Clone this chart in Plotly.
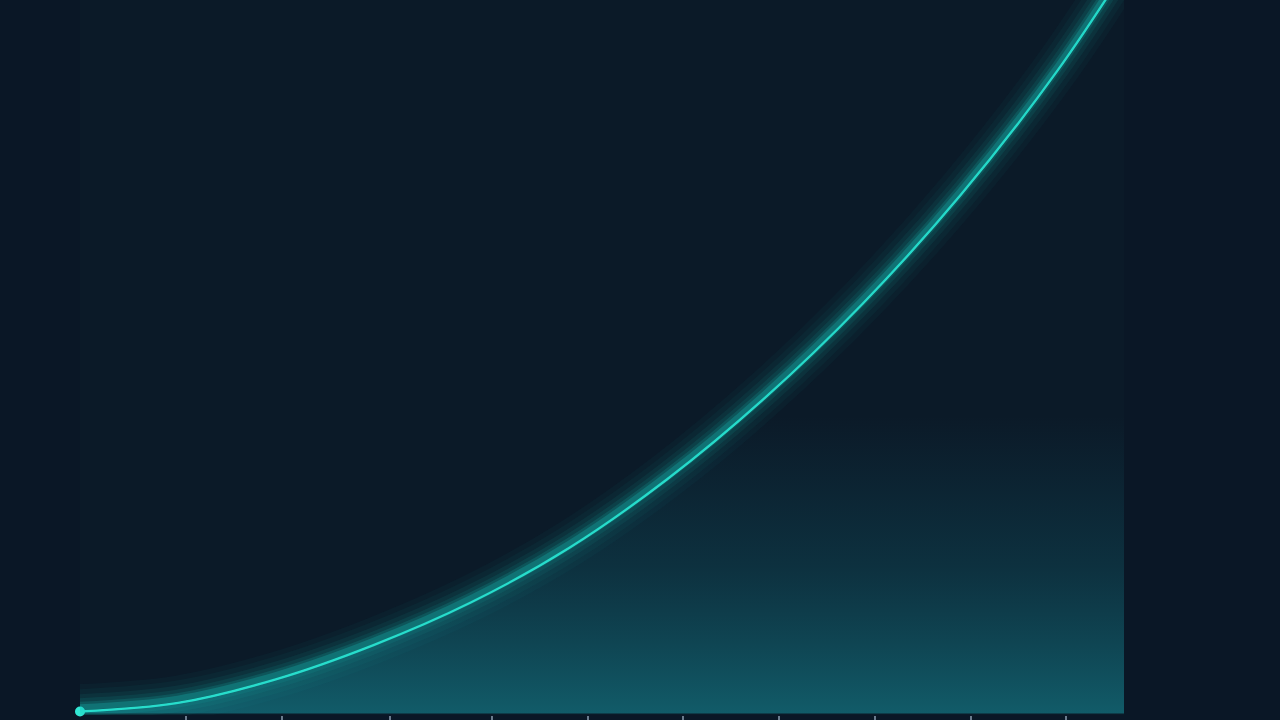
import plotly.graph_objects as go

# ---- data ----
x_steps = [0, 1, 2, 3, 4, 5, 6, 7, 8, 9, 10, 11]
y_values = [0.3, 1.5, 4.8, 9.6, 15.6, 23.2, 32.8, 44.2, 57.4, 72.6, 90.2, 111.0]
tick_positions = [1.08, 2.07, 3.17, 4.21, 5.19, 6.17, 7.15, 8.13, 9.11, 10.08]
tick_labels = ["" for _ in tick_positions]

BG_PAPER = "#0a1726"
BG_PLOT = "#0b1a28"
CORE = "#32e8d4"
GLOW = "rgba(25,205,195,{a})"
SHAPE = dict(shape="spline", smoothing=1.0)

fig = go.Figure()

# area fill with vertical gradient
fig.add_trace(go.Scatter(
    x=x_steps, y=y_values, mode="lines", line=dict(width=0, **SHAPE),
    fill="tozeroy",
    fillgradient=dict(type="vertical", start=0, stop=42,
                      colorscale=[[0, "rgba(24,160,172,0.50)"], [0.5, "rgba(20,130,145,0.22)"],
                                  [1, "rgba(20,120,140,0.0)"]]),
    hoverinfo="skip", showlegend=False,
))

# glow layers (slightly offset via a shifted overlay axis)
for w, a in [(46, 0.035), (36, 0.045), (26, 0.065), (18, 0.095), (11, 0.15), (6, 0.25)]:
    fig.add_trace(go.Scatter(
        x=x_steps, y=y_values, mode="lines", yaxis="y2",
        line=dict(width=w, color=GLOW.format(a=a), **SHAPE),
        hoverinfo="skip", showlegend=False,
    ))

# core line
fig.add_trace(go.Scatter(
    x=x_steps, y=y_values, mode="lines",
    line=dict(width=2.3, color=CORE, **SHAPE),
    hoverinfo="skip", showlegend=False,
))

# start dot
fig.add_trace(go.Scatter(
    x=x_steps[:1], y=y_values[:1], mode="markers",
    marker=dict(size=10, color=CORE), cliponaxis=False,
    hoverinfo="skip", showlegend=False,
))

fig.update_layout(
    width=1280, height=720,
    margin=dict(l=80, r=156, t=0, b=1, pad=0),
    paper_bgcolor=BG_PAPER, plot_bgcolor=BG_PLOT,
    xaxis=dict(range=[0, 10.675], showgrid=False, zeroline=False, showline=False,
               tickvals=tick_positions, ticktext=tick_labels, ticks="outside",
               ticklen=5, tickwidth=1.5, tickcolor="rgba(170,190,210,0.6)",
               showticklabels=False),
    yaxis=dict(range=[-0.2, 100], showgrid=False, zeroline=False, showline=False,
               showticklabels=False, ticks=""),
    yaxis2=dict(range=[-0.8, 99.4], overlaying="y", showgrid=False, zeroline=False,
                showline=False, showticklabels=False, ticks=""),
)

fig.write_html(
    "out.html",
    config={"displayModeBar": False},
    post_script="document.body.style.margin='0';document.body.style.overflow='hidden';",
)
